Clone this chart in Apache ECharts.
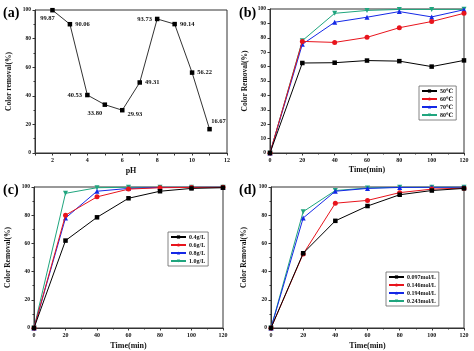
<!DOCTYPE html>
<html>
<head>
<meta charset="utf-8">
<script src="https://cdn.jsdelivr.net/npm/echarts@6/dist/echarts.min.js"></script>
<style>
  html, body { margin: 0; padding: 0; background: #fff; }
  #chart { width: 474px; height: 351px; }
</style>
</head>
<body>
<div id="chart"></div>
<script>
// panel (a): pH effect
const phValues = [2, 3, 4, 5, 6, 7, 8, 9, 10, 11]
const phRemoval = [99.87, 90.06, 40.53, 33.80, 29.93, 49.31, 93.73, 90.14, 56.22, 16.67]

// shared time axis for (b)(c)(d)
const times = [0, 20, 40, 60, 80, 100, 120]

// panel (b): temperature
const tempNames = ['50℃', '60℃', '70℃', '80℃']
const temp50 = [0, 62.5, 62.7, 64.2, 63.8, 60.0, 64.3]
const temp60 = [0, 77.5, 76.8, 80.3, 87.0, 91.3, 97.0]
const temp70 = [0, 75.5, 90.8, 94.3, 98.2, 94.5, 99.5]
const temp80 = [0, 78.0, 97.0, 99.0, 99.7, 99.7, 99.8]

// panel (c): dosage
const doseNames = ['0.4g/L', '0.6g/L', '0.8g/L', '1.0g/L']
const dose04 = [0, 62.0, 78.5, 92.0, 97.0, 99.0, 99.5]
const dose06 = [0, 80.0, 93.0, 98.5, 99.5, 99.7, 99.8]
const dose08 = [0, 78.0, 97.0, 99.0, 99.7, 99.8, 99.9]
const dose10 = [0, 95.5, 99.5, 99.8, 99.8, 99.8, 99.9]

// panel (d): oxidant concentration
const concNames = ['0.097mol/L', '0.146mol/L', '0.194mol/L', '0.243mol/L']
const conc097 = [0, 53.0, 76.0, 86.5, 94.5, 97.5, 99.0]
const conc146 = [0, 52.5, 88.5, 90.5, 96.0, 98.5, 99.2]
const conc194 = [0, 78.0, 97.0, 99.0, 99.7, 99.8, 99.9]
const conc243 = [0, 82.5, 97.5, 99.3, 99.8, 99.9, 99.9]

// label placement for panel (a) points
const phLabelPos = [
  { position: 'bottom', offset: [-5, -1] },
  { position: 'right', offset: [0, 0] },
  { position: 'left', offset: [0, 0] },
  { position: 'bottom', offset: [-10, 0] },
  { position: 'right', offset: [0, 4] },
  { position: 'right', offset: [0, 0] },
  { position: 'left', offset: [0, 0] },
  { position: 'right', offset: [0, 0] },
  { position: 'right', offset: [0, 0] },
  { position: 'top', offset: [9, 1] }
]

const FONT = '"Liberation Serif", "DejaVu Serif", serif'
const colors = ['#000000', '#e8141c', '#1428e6', '#1fa57e']
const symbols = ['rect', 'circle', 'triangle', 'triangle']
const rotates = [0, 0, 0, 180]

const grids = [
  { left: 35, top: 10, width: 192, height: 143 },
  { left: 270, top: 9, width: 194, height: 144 },
  { left: 34, top: 187, width: 189, height: 141 },
  { left: 271, top: 187, width: 193, height: 141 }
].map(g => Object.assign({ show: true, borderColor: '#333', borderWidth: 1, backgroundColor: 'transparent' }, g))

function xAxisFor(idx, name, min, max, interval, nameGap) {
  return {
    type: 'value', gridIndex: idx, min, max, interval,
    name, nameLocation: 'middle', nameGap,
    nameTextStyle: { fontFamily: FONT, fontWeight: 'bold', fontSize: 8, color: '#111' },
    axisLine: { show: true, onZero: false, lineStyle: { color: '#333', width: 1 } },
    axisTick: { show: true, length: 2.5, lineStyle: { color: '#333' } },
    minorTick: { show: idx !== 0, splitNumber: 2, length: 1.5, lineStyle: { color: '#333' } },
    axisLabel: {
      fontFamily: FONT, fontWeight: 'bold', fontSize: 6, color: '#111', margin: 4,
      formatter: idx === 0 ? (v => (v % 2 === 0 ? String(v) : '')) : null
    },
    splitLine: { show: false }
  }
}

function yAxisFor(idx, name, interval, nameGap) {
  return {
    type: 'value', gridIndex: idx, min: 0, max: 100, interval,
    name, nameLocation: 'middle', nameGap,
    nameTextStyle: { fontFamily: FONT, fontWeight: 'bold', fontSize: 7.5, color: '#111' },
    axisLine: { show: true, lineStyle: { color: '#333', width: 1 } },
    axisTick: { show: true, length: 2.5, lineStyle: { color: '#333' } },
    minorTick: { show: interval === 20, splitNumber: 2, length: 1.5, lineStyle: { color: '#333' } },
    axisLabel: { fontFamily: FONT, fontWeight: 'bold', fontSize: 5.5, color: '#111', margin: 4 },
    splitLine: { show: false }
  }
}

function groupSeries(idx, names, arrays) {
  return arrays.map((arr, k) => ({
    name: names[k], type: 'line', xAxisIndex: idx, yAxisIndex: idx,
    data: times.map((t, i) => [t, arr[i]]),
    symbol: symbols[k], symbolRotate: rotates[k], symbolSize: k === 0 ? 4.5 : 5,
    showAllSymbol: true,
    itemStyle: { color: colors[k] },
    lineStyle: { color: colors[k], width: 1 },
    z: 2 + (3 - k)
  }))
}

function legendFor(names, left, top) {
  return {
    data: names, left, top, orient: 'vertical',
    itemWidth: 15, itemHeight: 4, itemGap: 2,
    padding: [2, 3, 2, 2],
    borderColor: '#666', borderWidth: 0.8, backgroundColor: '#fff',
    selectedMode: false,
    textStyle: { fontFamily: FONT, fontWeight: 'bold', fontSize: 6, color: '#111', padding: [0, 0, 0, -2] }
  }
}

const phSeries = {
  type: 'line', xAxisIndex: 0, yAxisIndex: 0,
  data: phValues.map((p, i) => ({
    value: [p, phRemoval[i]],
    label: Object.assign({ show: true }, phLabelPos[i])
  })),
  symbol: 'rect', symbolSize: 4.5, showAllSymbol: true,
  itemStyle: { color: '#000' },
  lineStyle: { color: '#333', width: 1 },
  label: {
    fontFamily: FONT, fontWeight: 'bold', fontSize: 6.5, color: '#111', distance: 3,
    formatter: p => p.value[1].toFixed(2)
  }
}

const option = {
  animation: false,
  backgroundColor: '#fff',
  grid: grids,
  xAxis: [
    xAxisFor(0, 'pH', 1, 12, 1, 14),
    xAxisFor(1, 'Time(min)', 0, 120, 20, 13),
    xAxisFor(2, 'Time(min)', 0, 120, 20, 14),
    xAxisFor(3, 'Time(min)', 0, 120, 20, 14)
  ],
  yAxis: [
    yAxisFor(0, 'Color removal(%)', 20, 22),
    yAxisFor(1, 'Color Removal(%)', 10, 21),
    yAxisFor(2, 'Color Removal(%)', 20, 22),
    yAxisFor(3, 'Color Removal(%)', 20, 23)
  ],
  legend: [
    legendFor(tempNames, 419, 86),
    legendFor(doseNames, 168, 232),
    legendFor(concNames, 386, 272)
  ],
  graphic: [
    { type: 'text', left: 3, top: 6, style: { text: '(a)', font: 'bold 14px ' + FONT, fill: '#000' } },
    { type: 'text', left: 239, top: 6, style: { text: '(b)', font: 'bold 14px ' + FONT, fill: '#000' } },
    { type: 'text', left: 3, top: 183, style: { text: '(c)', font: 'bold 14px ' + FONT, fill: '#000' } },
    { type: 'text', left: 239, top: 183, style: { text: '(d)', font: 'bold 14px ' + FONT, fill: '#000' } }
  ],
  series: [phSeries]
    .concat(groupSeries(1, tempNames, [temp50, temp60, temp70, temp80]))
    .concat(groupSeries(2, doseNames, [dose04, dose06, dose08, dose10]))
    .concat(groupSeries(3, concNames, [conc097, conc146, conc194, conc243]))
}

const chart = echarts.init(document.getElementById('chart'), null, { renderer: 'canvas' })
chart.setOption(option)
</script>
</body>
</html>
